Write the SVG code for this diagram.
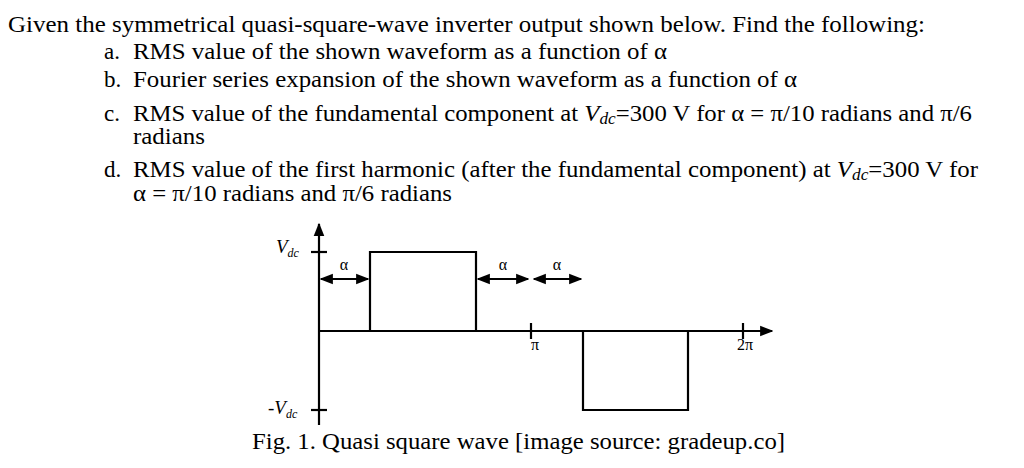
<svg xmlns="http://www.w3.org/2000/svg" width="1024" height="468" viewBox="0 0 1024 468">
<style>
text{font-family:"Liberation Serif","Times New Roman",serif;fill:#000}
.t{font-size:23px}
.s{font-size:16px}
.ln{stroke:#000;stroke-width:2.2;fill:none}
</style>
<defs>
<marker id="ah" viewBox="0 0 10 10" refX="9" refY="5" markerWidth="6" markerHeight="6" orient="auto-start-reverse"><path d="M0,1 L10,5 L0,9 Z" fill="#000"/></marker>
</defs>
<rect width="1024" height="468" fill="#fff"/>
<g id="question">
<text class="t" x="8" y="32" textLength="917" lengthAdjust="spacingAndGlyphs">Given the symmetrical quasi-square-wave inverter output shown below. Find the following:</text>
<text class="t" x="104" y="59">a.</text><text class="t" x="133" y="59" textLength="534" lengthAdjust="spacingAndGlyphs">RMS value of the shown waveform as a function of α</text>
<text class="t" x="104" y="87">b.</text><text class="t" x="133" y="87" textLength="664" lengthAdjust="spacingAndGlyphs">Fourier series expansion of the shown waveform as a function of α</text>
<text class="t" x="104" y="121">c.</text><text class="t" x="133" y="121" textLength="839" lengthAdjust="spacingAndGlyphs">RMS value of the fundamental component at <tspan font-style="italic">V</tspan><tspan font-style="italic" font-size="16" dy="3">dc</tspan><tspan dy="-3">=300 V for α = π/10 radians and π/6</tspan></text>
<text class="t" x="133" y="144" textLength="72" lengthAdjust="spacingAndGlyphs">radians</text>
<text class="t" x="104" y="177">d.</text><text class="t" x="133" y="177" textLength="845" lengthAdjust="spacingAndGlyphs">RMS value of the first harmonic (after the fundamental component) at <tspan font-style="italic">V</tspan><tspan font-style="italic" font-size="16" dy="3">dc</tspan><tspan dy="-3">=300 V for</tspan></text>
<text class="t" x="133" y="201" textLength="319" lengthAdjust="spacingAndGlyphs">α = π/10 radians and π/6 radians</text>
</g>
<g id="axes">
<line class="ln" x1="319" y1="425" x2="319" y2="224" marker-end="url(#ah)"/>
<line class="ln" x1="319" y1="331" x2="772" y2="331" marker-end="url(#ah)"/>
<line class="ln" x1="311" y1="252" x2="327" y2="252"/>
<line class="ln" x1="311" y1="410" x2="327" y2="410"/>
<line class="ln" x1="531" y1="323" x2="531" y2="339"/>
<line class="ln" x1="743" y1="323" x2="743" y2="339"/>
</g>
<g id="waveform">
<polyline class="ln" points="370,331 370,252 476,252 476,331"/>
<polyline class="ln" points="583,331 583,410 688,410 688,331"/>
</g>
<g id="connectors">
<line class="ln" x1="321" y1="279" x2="368" y2="279" marker-start="url(#ah)" marker-end="url(#ah)"/>
<line class="ln" x1="478" y1="279" x2="528" y2="279" marker-start="url(#ah)" marker-end="url(#ah)"/>
<line class="ln" x1="534" y1="279" x2="581" y2="279" marker-start="url(#ah)" marker-end="url(#ah)"/>
</g>
<g id="labels">
<text class="s" x="344" y="270" text-anchor="middle">α</text>
<text class="s" x="503" y="270" text-anchor="middle">α</text>
<text class="s" x="557" y="270" text-anchor="middle">α</text>
<text x="276" y="253" font-size="19" font-style="italic">V<tspan font-size="12" dy="4">dc</tspan></text>
<text x="268" y="414" font-size="19" font-style="italic">-V<tspan font-size="12" dy="4">dc</tspan></text>
<text class="s" x="535" y="350" text-anchor="middle">π</text>
<text class="s" x="745" y="350" text-anchor="middle">2π</text>
<text class="t" x="252" y="449" textLength="533" lengthAdjust="spacingAndGlyphs">Fig. 1. Quasi square wave [image source: gradeup.co]</text>
</g>
</svg>
